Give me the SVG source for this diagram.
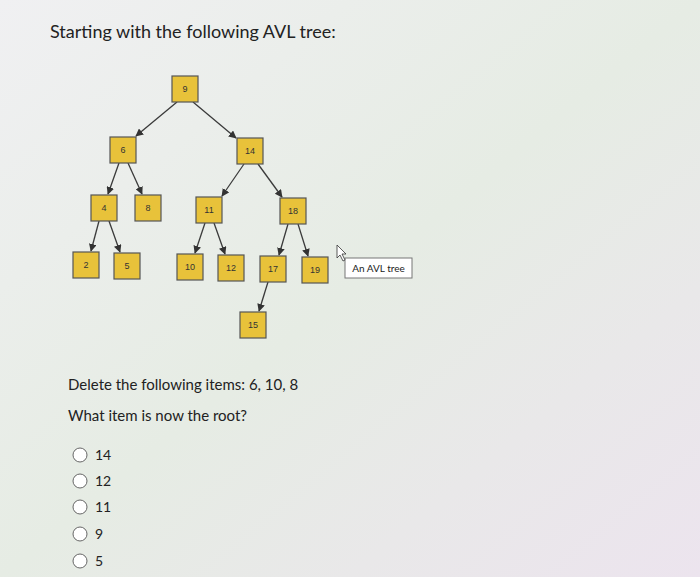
<svg xmlns="http://www.w3.org/2000/svg" width="700" height="577" viewBox="0 0 700 577">
<defs>
<linearGradient id="bg" x1="0" y1="0" x2="1" y2="1">
<stop offset="0" stop-color="#f0f0f2"/><stop offset="0.5" stop-color="#e6ece4"/><stop offset="1" stop-color="#ece4ee"/>
</linearGradient>
<marker id="ah" viewBox="0 0 10 10" refX="9" refY="5" markerWidth="6" markerHeight="6" orient="auto"><path d="M0,0L10,5L0,10z" fill="#333"/></marker>
</defs>
<style>
.n rect{fill:#e8c23a;stroke:#555;stroke-width:1.2}
.n text{font-family:"Liberation Sans",Arial,sans-serif;font-size:9px;fill:#333;text-anchor:middle}
#edges line{stroke:#3a3a3a;stroke-width:1.3;marker-end:url(#ah)}
.t{font-family:Lato,"Liberation Sans",Arial,sans-serif;fill:#222}
.r{fill:#fff;stroke:#666;stroke-width:1}
</style>
<rect width="700" height="577" fill="url(#bg)"/>
<text class="t" x="50" y="38" font-size="18">Starting with the following AVL tree:</text>
<g id="edges">
<line x1="177" y1="102" x2="136" y2="136"/>
<line x1="193" y1="102" x2="236" y2="138"/>
<line x1="119" y1="163" x2="108" y2="194"/>
<line x1="128" y1="163" x2="142" y2="194"/>
<line x1="244" y1="164" x2="222" y2="196"/>
<line x1="258" y1="164" x2="282" y2="197"/>
<line x1="99" y1="221" x2="91" y2="251"/>
<line x1="109" y1="221" x2="120" y2="252"/>
<line x1="205" y1="223" x2="195" y2="253"/>
<line x1="214" y1="223" x2="225" y2="254"/>
<line x1="288" y1="224" x2="279" y2="255"/>
<line x1="298" y1="224" x2="308" y2="256"/>
<line x1="268" y1="282" x2="259" y2="311"/>
</g>
<g id="n9" class="n"><rect x="172" y="76" width="26" height="26"/><text x="185" y="92">9</text></g>
<g id="n6" class="n"><rect x="110" y="137" width="26" height="26"/><text x="123" y="153">6</text></g>
<g id="n14" class="n"><rect x="237" y="138" width="26" height="26"/><text x="250" y="154">14</text></g>
<g id="n4" class="n"><rect x="91" y="195" width="26" height="26"/><text x="104" y="211">4</text></g>
<g id="n8" class="n"><rect x="135" y="195" width="26" height="26"/><text x="148" y="211">8</text></g>
<g id="n11" class="n"><rect x="196" y="197" width="26" height="26"/><text x="209" y="213">11</text></g>
<g id="n18" class="n"><rect x="280" y="198" width="26" height="26"/><text x="293" y="214">18</text></g>
<g id="n2" class="n"><rect x="73" y="252" width="26" height="26"/><text x="86" y="268">2</text></g>
<g id="n5" class="n"><rect x="114" y="253" width="26" height="26"/><text x="127" y="269">5</text></g>
<g id="n10" class="n"><rect x="177" y="254" width="26" height="26"/><text x="190" y="270">10</text></g>
<g id="n12" class="n"><rect x="218" y="255" width="26" height="26"/><text x="231" y="271">12</text></g>
<g id="n17" class="n"><rect x="260" y="256" width="26" height="26"/><text x="273" y="272">17</text></g>
<g id="n19" class="n"><rect x="302" y="257" width="26" height="26"/><text x="315" y="273">19</text></g>
<g id="n15" class="n"><rect x="240" y="312" width="26" height="26"/><text x="253" y="328">15</text></g>
<g id="tooltip"><rect x="345" y="258" width="67" height="20" fill="#fff" stroke="#777"/><text class="t" x="378.5" y="272" font-size="10" text-anchor="middle">An AVL tree</text></g>
<path d="M337,245 L337,258 L340,255 L343,261 L345,260 L342,254 L346,254 Z" fill="#fff" stroke="#333" stroke-width="0.8"/>
<text class="t" x="68" y="390" font-size="15">Delete the following items: 6, 10, 8</text>
<text class="t" x="68" y="421" font-size="15">What item is now the root?</text>
<g font-size="14" class="t">
<circle class="r" cx="80" cy="455" r="7"/><text class="t" x="95" y="460">14</text>
<circle class="r" cx="80" cy="481" r="7"/><text class="t" x="95" y="486">12</text>
<circle class="r" cx="80" cy="507" r="7"/><text class="t" x="95" y="512">11</text>
<circle class="r" cx="80" cy="534" r="7"/><text class="t" x="95" y="539">9</text>
<circle class="r" cx="80" cy="561" r="7"/><text class="t" x="95" y="566">5</text>
</g>
</svg>
